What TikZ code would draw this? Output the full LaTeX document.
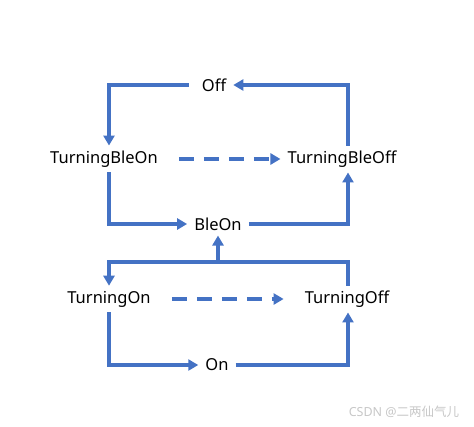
\documentclass[tikz,border=0pt]{standalone}
\usepackage{fontspec}
\setmainfont{Noto Sans}
\newfontfamily\cjkfont{Noto Sans CJK SC}
\usetikzlibrary{arrows.meta}
\definecolor{flowblue}{HTML}{4472C4}
\begin{document}
\begin{tikzpicture}
    [x=1pt,y=-1pt,
     state/.style={inner xsep=7pt,inner ysep=5pt,font=\fontsize{16.5}{19}\selectfont},
     line/.style={draw=flowblue,line width=3.3pt},
     flow/.style={line,-{Triangle[length=10pt,width=11pt]}},
     dashflow/.style={flow,dash pattern=on 15pt off 10pt}]
    \useasboundingbox (0,0) rectangle (474,426);
    \coordinate (L) at (109,0);
    \coordinate (R) at (348,0);
    \node[state] (Off) at (214,85) {Off};
    \node[state] (TBOn) at (104,159) {TurningBleOn};
    \node[state] (TBOff) at (342,159) {TurningBleOff};
    \node[state] (BleOn) at (218,224) {BleOn};
    \node[state] (TOn) at (109,299) {TurningOn};
    \node[state] (TOff) at (347,299) {TurningOff};
    \node[state] (On) at (217,365) {On};
    \coordinate (split) at (218,262);
    
    \draw[flow] (Off.west) ++(-6,0) -| (TBOn.north -| L);
    \draw[flow] (TBOff.north -| R) |- (Off);
    \draw[dashflow,shorten <=14pt] (TBOn) -- (TBOff);
    \draw[flow] (TBOn.south -| L) |- (BleOn);
    \draw[flow] (BleOn) -| (TBOff.south -| R);
    \draw[line] (TOff.north -| R) |- (split);
    \draw[flow] (split) -- (BleOn);
    \draw[flow] (split) -| (TOn.north -| L);
    \draw[dashflow,shorten <=14pt,shorten >=14pt] (TOn) -- (TOff);
    \draw[flow] (TOn.south -| L) |- (On);
    \draw[flow] (On) -| (TOff.south -| R);
    
    \node[text=black!22,font=\fontsize{12.5}{15}\selectfont] (mark) at (404,412) {CSDN @\cjkfont 二两仙气儿};
  \end{tikzpicture}
\end{document}
